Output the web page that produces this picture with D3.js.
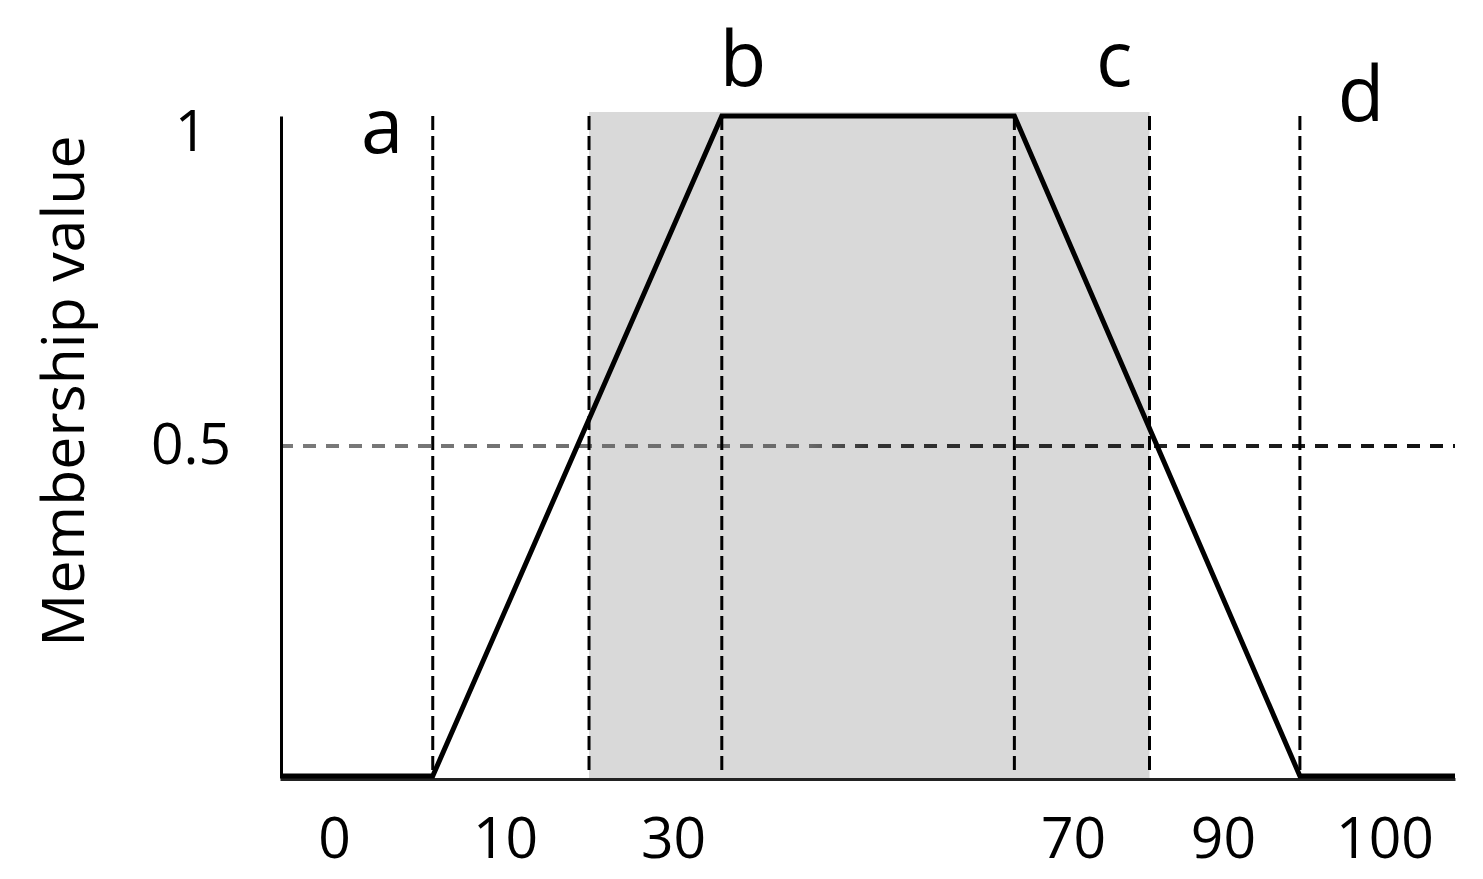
<!DOCTYPE html>
<html>
<head>
<meta charset="utf-8">
<script src="https://cdn.jsdelivr.net/npm/d3@7"></script>
<style>
body { margin: 0; background: #fff; }
text { font-family: "Open Sans", sans-serif; fill: #000; }
</style>
</head>
<body>
<svg id="chart" width="1483" height="879"></svg>
<script>
// trapezoid membership function, x in universe units, y = membership
const shapeX = [0, 13, 37.6, 62.5, 86.8, 100];
const shapeY = [0, 0, 1, 1, 0, 0];
const breakX = [13, 26.3, 37.6, 62.5, 74, 86.8];   // dashed guides
const shadeX = [26.3, 74];                           // grey band
const cutLevel = 0.5;
const names = ["a", "b", "c", "d"];
const nameX = [8.7, 39.4, 71.0, 92.0];
const nameY = [0.944, 1.045, 1.045, 0.992];
const xTickAt = [4.6, 19.15, 33.45, 67.5, 80.25, 94];
const xTickLabels = ["0", "10", "30", "70", "90", "100"];
const yTicks = [0.5, 1];
const yTickLabels = ["0.5", "1"];

const svg = d3.select("#chart");

const x = d3.scaleLinear().domain([0, 100]).range([280, 1455]);
const y = d3.scaleLinear().domain([0, 1]).range([776, 116]);

// grey band
svg.append("rect")
    .attr("x", x(shadeX[0]))
    .attr("y", y(1) - 4)
    .attr("width", x(shadeX[1]) - x(shadeX[0]))
    .attr("height", y(0) - y(1) + 8)
    .attr("fill", "#d9d9d9");

// gradient for the 0.5 cut line (lighter on the left like the original)
const grad = svg.append("defs").append("linearGradient")
    .attr("id", "cutGrad")
    .attr("gradientUnits", "userSpaceOnUse")
    .attr("x1", x(0)).attr("x2", x(100))
    .attr("y1", 0).attr("y2", 0);
grad.append("stop").attr("offset", 0).attr("stop-color", "#7a7a7a");
grad.append("stop").attr("offset", 0.45).attr("stop-color", "#6a6a6a");
grad.append("stop").attr("offset", 0.5).attr("stop-color", "#333");
grad.append("stop").attr("offset", 1).attr("stop-color", "#111");

svg.append("line")
    .attr("x1", x(0)).attr("x2", x(100))
    .attr("y1", y(cutLevel)).attr("y2", y(cutLevel))
    .attr("stroke", "url(#cutGrad)")
    .attr("stroke-width", 4)
    .attr("stroke-dasharray", "13,10");

// vertical dashed guides
svg.selectAll(".guide")
    .data(breakX)
    .enter()
    .append("line")
    .attr("class", "guide")
    .attr("x1", (d) => x(d)).attr("x2", (d) => x(d))
    .attr("y1", y(1)).attr("y2", y(0))
    .attr("stroke", "#000")
    .attr("stroke-width", 3)
    .attr("stroke-dasharray", "14,6");

// axes
const xAxis = d3.axisBottom(x)
    .tickValues(xTickAt)
    .tickFormat((d, i) => xTickLabels[i])
    .tickSize(0)
    .tickSizeOuter(0);

const gx = svg.append("g")
    .attr("transform", `translate(0,${y(0) + 3})`)
    .call(xAxis);
gx.select(".domain").attr("stroke", "#222").attr("stroke-width", 3);
gx.selectAll("text")
    .attr("y", 79)
    .attr("dy", 0)
    .style("font-size", "57px")
    .style("font-family", "'Open Sans', sans-serif")
    .attr("fill", "#000");

const yAxis = d3.axisLeft(y)
    .tickValues(yTicks)
    .tickFormat((d, i) => yTickLabels[i])
    .tickSize(0)
    .tickSizeOuter(0);

const gy = svg.append("g")
    .attr("transform", `translate(${x(0) + 1},0)`)
    .call(yAxis);
gy.select(".domain").attr("stroke", "#000").attr("stroke-width", 3);
gy.selectAll("text")
    .attr("x", -90)
    .attr("dy", "0.3em")
    .attr("text-anchor", "middle")
    .style("font-size", "57px")
    .style("font-family", "'Open Sans', sans-serif")
    .attr("fill", "#000");
gy.selectAll(".tick").filter((d) => d === 1).select("text").attr("dy", "0.6em");

// trapezoid
const line = d3.line()
    .x((d) => x(d[0]))
    .y((d) => y(d[1]));

svg.append("path")
    .datum(shapeX.map((v, i) => [v, shapeY[i]]))
    .attr("d", line)
    .attr("fill", "none")
    .attr("stroke", "#000")
    .attr("stroke-width", 5)
    .attr("stroke-linejoin", "miter");

// a b c d labels
svg.selectAll(".name")
    .data(names)
    .enter()
    .append("text")
    .attr("class", "name")
    .attr("x", (d, i) => x(nameX[i]))
    .attr("y", (d, i) => y(nameY[i]))
    .attr("text-anchor", "middle")
    .style("font-size", "76px")
    .text((d) => d);

// y label
svg.append("text")
    .attr("transform", "translate(84,391) rotate(-90)")
    .attr("text-anchor", "middle")
    .style("font-size", "59px")
    .style("font-weight", 500)
    .text("Membership value");
</script>
</body>
</html>
